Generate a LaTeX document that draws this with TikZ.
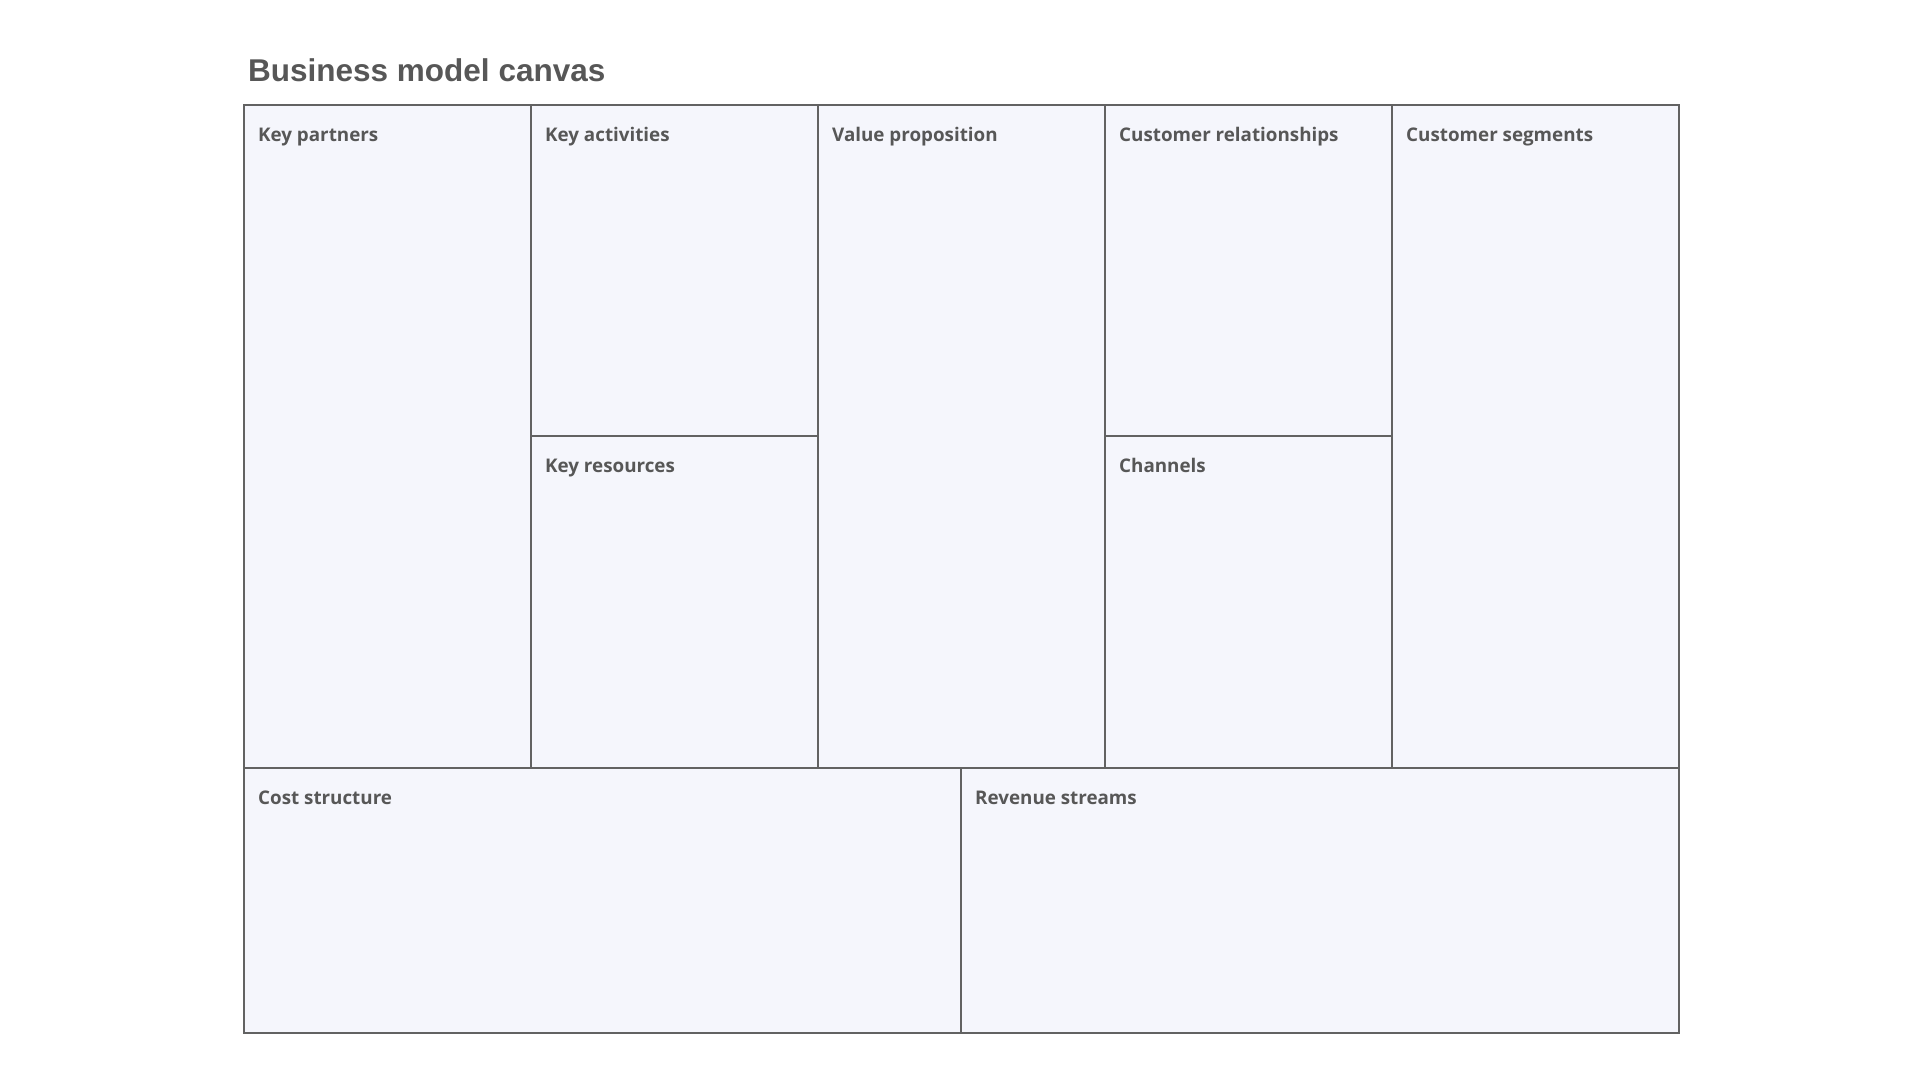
\documentclass[tikz,border=0pt]{standalone}
\usepackage{fontspec}
\setmainfont{Open Sans}
\newfontfamily\titlefont{Liberation Sans}
\definecolor{linegray}{HTML}{626262}
\definecolor{cellfill}{HTML}{F5F6FC}
\definecolor{textgray}{HTML}{575757}
\begin{document}
\begin{tikzpicture}
  [x=1pt,y=-1pt,
   cell/.style={draw=linegray,fill=cellfill,line width=2.2pt,anchor=north west,inner sep=0pt},
   tag/.style={anchor=base west,inner sep=0pt,text=textgray,font=\bfseries\fontsize{18.8}{22}\selectfont}]
  \useasboundingbox (0,0) rectangle (1920,1080);
  \node[anchor=base west,inner sep=0pt,text=textgray,font=\titlefont\bfseries\fontsize{31.5}{36}\selectfont] (title) at (248,81) {Business model canvas};

  \foreach \name/\px/\py/\w/\h/\txt in {kp/243/104/287/663/Key partners, ka/530/104/287/331/Key activities, kr/530/435/287/332/Key resources, vp/817/104/287/663/Value proposition, cr/1104/104/287/331/Customer relationships, ch/1104/435/287/332/Channels, cs/1391/104/287/663/Customer segments, cost/243/767/717/265/Cost structure, rev/960/767/718/265/Revenue streams}
  {
    \node[cell,minimum width=\w pt,minimum height=\h pt] (\name) at (\px,\py) {};
    \node[tag] (\name-tag) at ([shift={(15,37)}]\name.north west) {\txt};
  }

\end{tikzpicture}
\end{document}
